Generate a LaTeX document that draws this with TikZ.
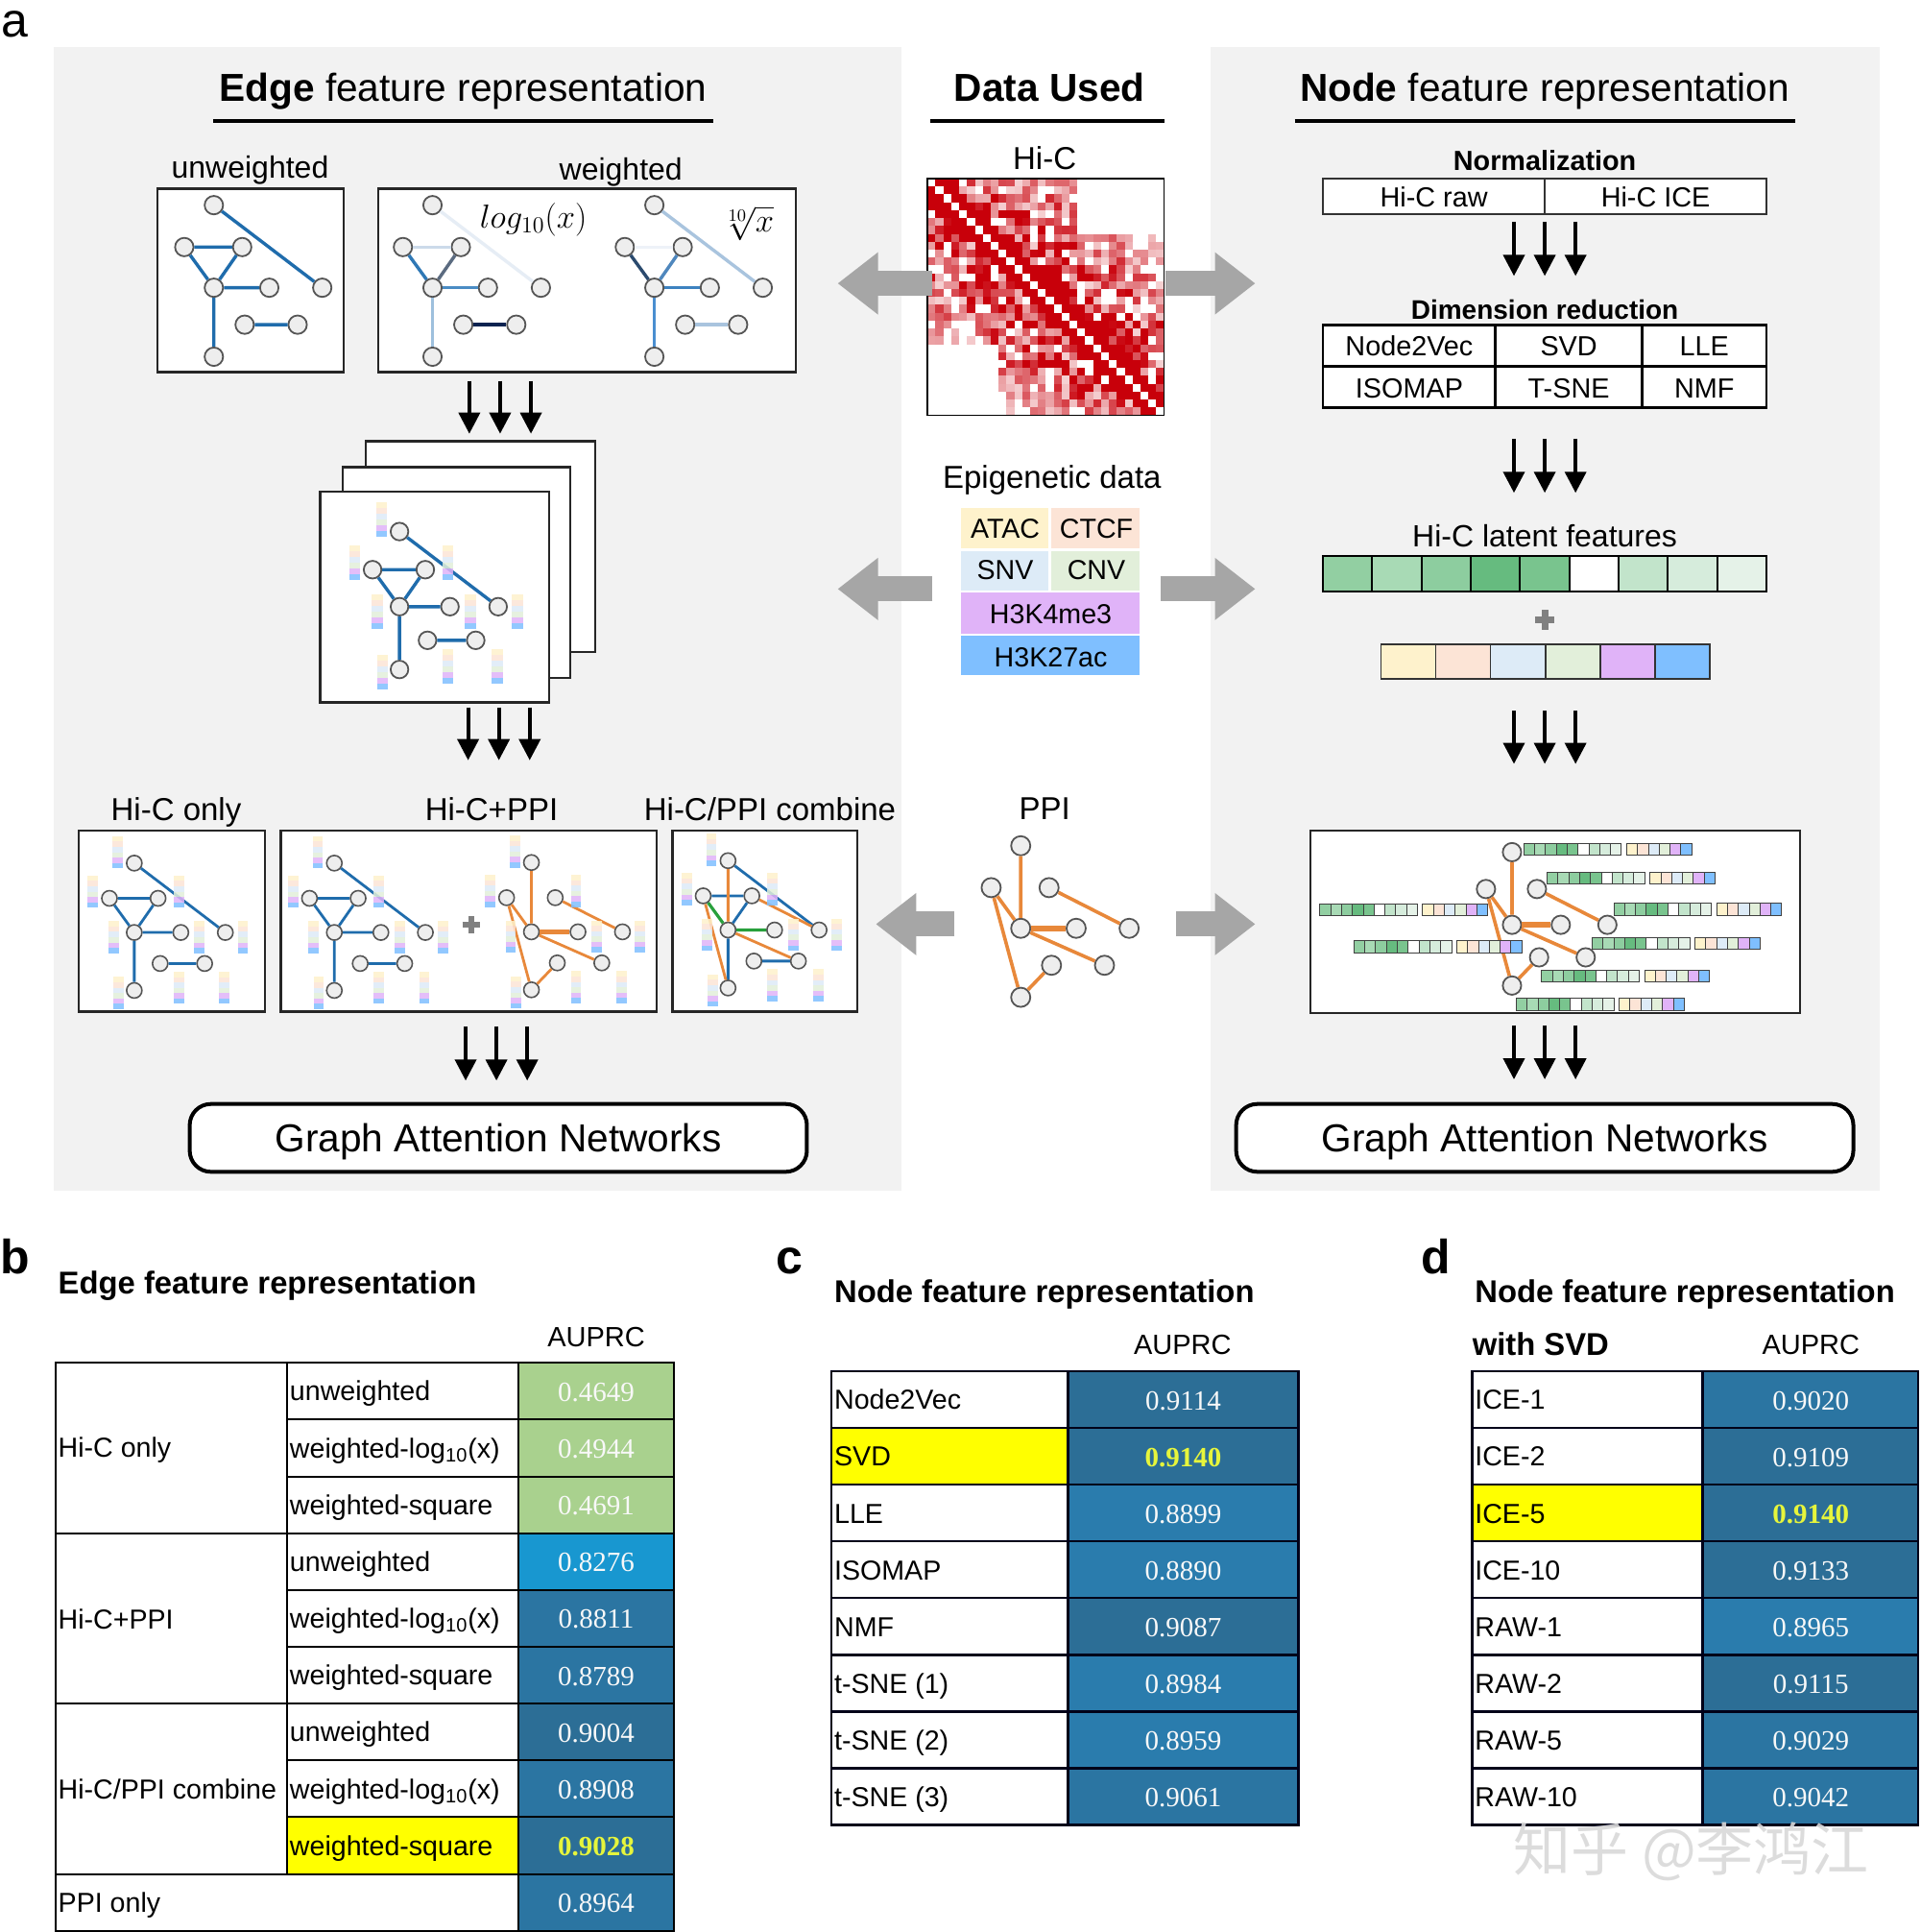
\documentclass[tikz,border=0pt]{standalone}
\usepackage{fontspec}
\setmainfont{Liberation Sans}
\newfontfamily\tnr{Liberation Serif}
\newfontfamily\cjkf{Noto Sans CJK SC}
\usetikzlibrary{arrows.meta}

\definecolor{panelgray}{HTML}{F2F2F2}
\definecolor{arrgray}{HTML}{A6A6A6}
\definecolor{hicblue}{HTML}{1F6CAC}
\definecolor{ppiorange}{HTML}{E8883A}
\definecolor{bothgreen}{HTML}{28A03C}
\definecolor{nodefill}{HTML}{EEEEEE}
\definecolor{nodedraw}{HTML}{555555}
\definecolor{hicred}{HTML}{C8000A}
\definecolor{epiA}{HTML}{FEF2CC}
\definecolor{epiB}{HTML}{FCE4D6}
\definecolor{epiC}{HTML}{DDEBF7}
\definecolor{epiD}{HTML}{E2EFDA}
\definecolor{epiE}{HTML}{E0B3F8}
\definecolor{epiF}{HTML}{7FBFFF}
\definecolor{gA}{HTML}{92CFA2}
\definecolor{gB}{HTML}{A8DAB5}
\definecolor{gC}{HTML}{8DCD9F}
\definecolor{gD}{HTML}{66BB7F}
\definecolor{gE}{HTML}{79C48E}
\definecolor{gF}{HTML}{FFFFFF}
\definecolor{gG}{HTML}{C2E4CB}
\definecolor{gH}{HTML}{D6ECDC}
\definecolor{gI}{HTML}{E5F2E8}
\definecolor{tgreen}{HTML}{A9D18E}
\definecolor{tbright}{HTML}{1897D0}
\definecolor{tdark}{HTML}{2C6E96}
\definecolor{tmid}{HTML}{2B75A2}
\definecolor{tlight}{HTML}{2A7CAD}
\definecolor{hlyellow}{HTML}{FFFF00}
\definecolor{numy}{HTML}{E6F53C}
\definecolor{numw}{HTML}{F8F8F8}
\definecolor{wlA}{HTML}{E6EDF5}
\definecolor{wlB}{HTML}{CCDAEA}
\definecolor{wlC}{HTML}{2F78B5}
\definecolor{wlD}{HTML}{5B6B80}
\definecolor{wlE}{HTML}{4A8CC4}
\definecolor{wlF}{HTML}{9EC0DD}
\definecolor{wlG}{HTML}{0B2350}
\definecolor{wrA}{HTML}{A9C4DE}
\definecolor{wrB}{HTML}{EEF2F8}
\definecolor{wrC}{HTML}{2B4A6E}
\definecolor{wrD}{HTML}{4F87BD}
\definecolor{wrE}{HTML}{3D82C0}
\definecolor{wrF}{HTML}{4A8ED0}
\definecolor{wrG}{HTML}{A9C4DE}

\newcommand\fsz[1]{\fontsize{#1}{#1}\selectfont}
\newcommand\txt[6][base]{\node[anchor=#1,inner sep=0pt,font=\fsz{#5}] (#2) at (#3,#4+0.558*#5) {#6};}
\newcommand\gnodes[5]{%
\begin{scope}[shift={(#2,#3)},scale=#4]
\foreach \nm/\px/\py in {a/0/0,b/-24/34,c/23/34,d/0/67,e/45/67,f/88/67,g/25/97,h/68/97,i/0/123}{\node[#5] (#1\nm) at (\px,\py) {};}
\end{scope}}
\newcommand\hicE[2]{\draw[#2] (#1a)--(#1f) (#1b)--(#1c) (#1b)--(#1d) (#1c)--(#1d) (#1d)--(#1e) (#1d)--(#1i) (#1g)--(#1h);}
\newcommand\ppiE[3]{\draw[#2] (#1a)--(#1d) (#1b)--(#1d) (#1b)--(#1i) (#1c)--(#1f) (#1d)--(#1h) (#1g)--(#1i);
\draw[#3] (#1d)--(#1e);}
\newcommand\gbars[3]{%
\begin{scope}[shift={(#1,#2)},scale=#3]
\foreach \bx/\by in {-21/-26,-45/12,38/12,-25/56,58/56,100/56,-20/110,38/105,82/105}{
 \foreach \c [count=\k from 0] in {epiA,epiB,epiC,epiD,epiE,epiF}{
  \fill[\c,opacity=0.85] (\bx,\by+\k*5.17) rectangle ++(10,5.17);}}
\end{scope}}
\newcommand\fbar[2]{%
\foreach \c [count=\k from 0] in {gA,gB,gC,gD,gE,gF,gG,gH,gI}{\filldraw[fill=\c,draw=black!75,line width=0.45pt] (#1+\k*8.8,#2) rectangle ++(8.8,9.8);}
\foreach \c [count=\k from 0] in {epiA,epiB,epiC,epiD,epiE,epiF}{\filldraw[fill=\c,draw=black!75,line width=0.45pt] (#1+83.5+\k*8.8,#2) rectangle ++(8.8,9.8);}}
\newcommand\tri[4]{%
\foreach \dx [count=\k] in {-25,0,25}{
 \coordinate (#1s\k) at (#2+\dx,#3);
 \coordinate (#1e\k) at (#2+\dx,#4);
 \draw[tarrow] (#1s\k) -- (#1e\k);}}

\begin{document}
\begin{tikzpicture}[x=0.6415pt,y=-0.6415pt,
 gn/.style={circle,draw=nodedraw,fill=nodefill,line width=0.9pt,inner sep=0pt,minimum size=9.6pt},
 gnm/.style={gn,minimum size=9.2pt},
 gns/.style={gn,minimum size=8pt,line width=0.8pt},
 gnl/.style={gn,minimum size=10pt},
 he/.style={hicblue,line width=1.7pt},
 hes/.style={hicblue,line width=1.4pt},
 pe/.style={ppiorange,line width=1.8pt},
 pet/.style={ppiorange,line width=3pt},
 pes/.style={ppiorange,line width=1.4pt},
 pest/.style={ppiorange,line width=2.2pt},
 ges/.style={bothgreen,line width=1.6pt},
 we/.style={line width=1.7pt},
 boxw/.style={draw=black!85,fill=white,line width=1.2pt},
 tarrow/.style={line width=1.9pt,-{Triangle[width=11pt,length=11pt]}},
 bigarr/.style={arrgray,line width=13pt,-{Triangle[width=31pt,length=21pt]}},
 gat/.style={draw,line width=2pt,rounded corners=11pt,fill=white,inner sep=0pt,font=\fsz{20.3},text height=14.5pt,text depth=0pt,minimum width=321.4pt,minimum height=35.3pt},
 tline/.style={line width=1pt,black},
 tline2/.style={line width=1.2pt,black!90!blue}]
\useasboundingbox (0,0) rectangle (1559,1568);
\fill[white] (0,0) rectangle (1559,1568);
\fill[panelgray] (44,38) rectangle (732,966);
\fill[panelgray] (983,38) rectangle (1526,966);

% panel label a
\node[anchor=base,inner sep=0pt,font=\fsz{25}] (la) at (12,30) {a};

% titles
\txt{tE}{376}{71}{20.3}{\textbf{Edge} feature representation}
\draw[line width=2pt] (173,98) -- (579,98);
\txt{tD}{852}{71}{20.3}{\textbf{Data Used}}
\draw[line width=2pt] (755,98) -- (945,98);
\txt{tN}{1254}{71}{20.3}{\textbf{Node} feature representation}
\draw[line width=2pt] (1051,98) -- (1457,98);

% ===== Edge feature section =====
\txt{lUnw}{203}{136}{16}{unweighted}
\txt{lW}{504}{137}{16}{weighted}
\filldraw[boxw] (128,153) rectangle (279,302);
\filldraw[boxw] (307,153) rectangle (646,302);
\gnodes{U}{173.6}{166.5}{1}{gn}
\hicE{U}{he}
\gnodes{M}{351.1}{166.5}{1}{gn}
\draw[we,wlA] (Ma)--(Mf);
\draw[we,wlB] (Mb)--(Mc);
\draw[we,wlC] (Mb)--(Md);
\draw[we,wlD] (Mc)--(Md);
\draw[we,wlE] (Md)--(Me);
\draw[we,wlF] (Md)--(Mi);
\draw[we,wlG] (Mg)--(Mh);
\gnodes{R}{531.2}{166.5}{1}{gn}
\draw[we,wrA] (Ra)--(Rf);
\draw[we,wrB] (Rb)--(Rc);
\draw[we,wrC] (Rb)--(Rd);
\draw[we,wrD] (Rc)--(Rd);
\draw[we,wrE] (Rd)--(Re);
\draw[we,wrF] (Rd)--(Ri);
\draw[we,wrG] (Rg)--(Rh);
\node[inner sep=0pt,font=\fsz{18}] (lLog) at (433,178) {$log_{10}(x)$};
\node[inner sep=0pt,font=\fsz{18}] (lRoot) at (606,181) {$\sqrt[10]{x}$};

\tri{ta}{406}{309}{352}

% stacked graphs
\filldraw[boxw] (297,358) rectangle (483,529);
\filldraw[boxw] (278,379) rectangle (463,550);
\filldraw[boxw] (260,399) rectangle (446,570);
\gnodes{S}{324.3}{431.4}{0.91}{gnm}
\hicE{S}{he}
\gbars{324.3}{431.4}{0.91}

\tri{tb}{405}{574}{617}

% bottom graphs
\txt{lHo}{143}{657}{16.5}{Hi-C only}
\txt{lHp}{399}{657}{16.5}{Hi-C+PPI}
\txt{lHc}{625}{657}{16.5}{Hi-C/PPI combine}
\filldraw[boxw] (64,674) rectangle (215,821);
\filldraw[boxw] (228,674) rectangle (533,821);
\filldraw[boxw] (546,674) rectangle (696,821);
\gnodes{H}{109}{700.5}{0.84}{gns}
\hicE{H}{hes}
\gbars{109}{700.5}{0.84}
\gnodes{L}{271.4}{700.5}{0.84}{gns}
\hicE{L}{hes}
\gbars{271.4}{700.5}{0.84}
\gnodes{Q}{431.4}{700}{0.84}{gns}
\ppiE{Q}{pes}{pest}
\gbars{431.4}{700}{0.84}
\draw[gray,line width=3pt] (375.4,750.7) -- (389.4,750.7) (382.4,743.7) -- (382.4,757.7);
\gnodes{C}{591}{698.5}{0.84}{gns}
\draw[hes] (Ca)--(Cf) (Cb)--(Cc) (Cc)--(Cd) (Cd)--(Ci) (Cg)--(Ch);
\draw[pes] (Ca)--(Cd) (Cb)--(Ci) (Cc)--(Cf) (Cd)--(Ch);
\draw[ges] (Cb)--(Cd) (Cd)--(Ce);
\gbars{591}{698.5}{0.84}

\tri{tc}{403}{833}{877}
\node[gat] (gatL) at (404.5,923.5) {Graph Attention Networks};

% ===== Data used =====
\txt{lHiC}{848}{128}{16.5}{Hi-C}
\pgfmathsetseed{11}
\foreach \i in {0,...,29}{\foreach \j in {0,...,29}{
 \pgfmathtruncatemacro\dd{abs(\i-\j)}
 \pgfmathtruncatemacro\cor{or(and(\i<7,\j>18),and(\j<9,\i>20))}
 \pgfmathsetmacro\base{\cor>0 ? 0.1 : 1.25-\dd/22}
 \pgfmathsetmacro\val{\dd<1 ? 0 : (\dd<3 ? 100 : 100*\base*(1.4*rnd))}
 \pgfmathtruncatemacro\v{min(100,max(0,\val))}
 \pgfmathtruncatemacro\v{\v<18 ? 0 : \v}
 \fill[hicred!\v!white] (753+\j*6.4,145+\i*6.4) rectangle ++(6.45,6.45);
}}
\draw[line width=0.8pt] (753,145) rectangle (945,337);

\txt{lEpi}{854}{387}{16.5}{Epigenetic data}
\fill[epiA] (780,412) rectangle (851,445);
\fill[epiB] (853,412) rectangle (925,445);
\fill[epiC] (780,447) rectangle (851,479);
\fill[epiD] (853,447) rectangle (925,479);
\fill[epiE] (780,481) rectangle (925,514);
\fill[epiF] (780,516) rectangle (925,548);
\txt{eA}{816}{429}{14.3}{ATAC}
\txt{eB}{890}{429}{14.3}{CTCF}
\txt{eC}{816}{462}{14.3}{SNV}
\txt{eD}{890}{462}{14.3}{CNV}
\txt{eE}{853}{498}{14.3}{H3K4me3}
\txt{eF}{853}{533}{14.3}{H3K27ac}

\txt{lPPI}{848}{656}{16.5}{PPI}
\gnodes{P}{828.6}{686.4}{1}{gnl}
\ppiE{P}{pe}{pet}

% big gray arrows
\coordinate (gA1s) at (757,230); \coordinate (gA1e) at (680,230);
\coordinate (gA2s) at (946,230); \coordinate (gA2e) at (1019,230);
\coordinate (gB1s) at (757,478); \coordinate (gB1e) at (680,478);
\coordinate (gB2s) at (942,478); \coordinate (gB2e) at (1019,478);
\coordinate (gC1s) at (775,750); \coordinate (gC1e) at (711,750);
\coordinate (gC2s) at (955,750); \coordinate (gC2e) at (1019,750);
\draw[bigarr] (gA1s) -- (gA1e);
\draw[bigarr] (gA2s) -- (gA2e);
\draw[bigarr] (gB1s) -- (gB1e);
\draw[bigarr] (gB2s) -- (gB2e);
\draw[bigarr] (gC1s) -- (gC1e);
\draw[bigarr] (gC2s) -- (gC2e);

% ===== Node feature section =====
\txt{lNorm}{1254}{130}{14.4}{\bfseries Normalization}
\filldraw[draw=black!80,fill=white,line width=0.9pt] (1074,145) rectangle (1434,174);
\draw[black!80,line width=0.9pt] (1254,145) -- (1254,174);
\txt{cRaw}{1164}{160}{14.4}{Hi-C raw}
\txt{cIce}{1344}{160}{14.4}{Hi-C ICE}
\tri{td}{1254}{180}{224}
\txt{lDim}{1254}{251}{14}{\bfseries Dimension reduction}
\filldraw[draw=black,fill=white,line width=1.3pt] (1074,264) rectangle (1434,331);
\draw[black,line width=1.3pt] (1074,297.5) -- (1434,297.5) (1214,264) -- (1214,331) (1333,264) -- (1333,331);
\txt{dA}{1144}{281}{14.4}{Node2Vec}
\txt{dB}{1273.5}{281}{14.4}{SVD}
\txt{dC}{1383.5}{281}{14.4}{LLE}
\txt{dD}{1144}{315}{14.4}{ISOMAP}
\txt{dE}{1273.5}{315}{14.4}{T-SNE}
\txt{dF}{1383.5}{315}{14.4}{NMF}
\tri{te}{1254}{356}{400}
\txt{lLat}{1254}{435}{16}{Hi-C latent features}
\foreach \c [count=\k from 0] in {gA,gB,gC,gD,gE,gF,gG,gH,gI}{\filldraw[fill=\c,draw=black,line width=1pt] (1074+\k*40,451) rectangle ++(40,29);}
\draw[gray,line width=3.4pt] (1246,503) -- (1262,503) (1254,495) -- (1254,511);
\foreach \c [count=\k from 0] in {epiA,epiB,epiC,epiD,epiE,epiF}{\filldraw[fill=\c,draw=black!80,line width=0.8pt] (1121+\k*44.5,523) rectangle ++(44.5,28);}
\tri{tf}{1254}{577}{620}

\filldraw[boxw] (1064,674) rectangle (1461,822);
\gnodes{N}{1227.4}{691.6}{0.88}{gn}
\ppiE{N}{pe}{pet}
\fbar{1237}{684.3}
\fbar{1255.9}{707.6}
\fbar{1071.4}{733.4}
\fbar{1310}{732.9}
\fbar{1099.1}{763.4}
\fbar{1292.4}{760.8}
\fbar{1251.5}{787.2}
\fbar{1230.9}{810}

\tri{tg}{1254}{832}{876}
\node[gat] (gatR) at (1254,923.5) {Graph Attention Networks};

% ===== Table b =====
\node[anchor=base,inner sep=0pt,font=\fsz{25}\bfseries] (lb) at (12,1034) {b};
\txt[base west]{bT}{47}{1041}{16.4}{\bfseries Edge feature representation}
\txt{bAU}{484}{1085}{14.5}{AUPRC}
\foreach \c [count=\r from 0] in {tgreen,tgreen,tgreen,tbright,tmid,tmid,tdark,tmid,tdark,tmid}{\fill[\c] (421,1106+46.1*\r) rectangle (547,1152.1+46.1*\r);}
\fill[hlyellow] (233,1474.8) rectangle (421,1520.9);
\draw[tline] (45,1106) rectangle (547,1567);
\draw[tline] (233,1106) -- (233,1520.9) (421,1106) -- (421,1567);
\foreach \r in {3,6,9}{\draw[tline] (45,1106+46.1*\r) -- (547,1106+46.1*\r);}
\foreach \r in {1,2,4,5,7,8}{\draw[tline] (233,1106+46.1*\r) -- (547,1106+46.1*\r);}
\foreach \lab/\num/\tc/\wt [count=\r from 0] in {unweighted/0.4649/numw/\mdseries,weighted-log\textsubscript{10}(x)/0.4944/numw/\mdseries,weighted-square/0.4691/numw/\mdseries,unweighted/0.8276/numw/\mdseries,weighted-log\textsubscript{10}(x)/0.8811/numw/\mdseries,weighted-square/0.8789/numw/\mdseries,unweighted/0.9004/numw/\mdseries,weighted-log\textsubscript{10}(x)/0.8908/numw/\mdseries,weighted-square/0.9028/numy/\bfseries}{
 \node[anchor=base west,inner sep=0pt,font=\fsz{14.3}] (bl\r) at (235,1137+46.1*\r) {\lab};
 \node[anchor=base,inner sep=0pt,font=\tnr\fsz{14.5}\wt,text=\tc] (bn\r) at (484,1137.2+46.1*\r) {\num};
}
\node[anchor=base,inner sep=0pt,font=\tnr\fsz{14.5},text=numw] (bn9) at (484,1552.1) {0.8964};
\txt[base west]{bg1}{47}{1175}{14.3}{Hi-C only}
\txt[base west]{bg2}{47}{1314}{14.3}{Hi-C+PPI}
\txt[base west]{bg3}{47}{1452}{14.3}{Hi-C/PPI combine}
\txt[base west]{bg4}{47}{1544}{14.3}{PPI only}

% ===== Table c =====
\node[anchor=base,inner sep=0pt,font=\fsz{25}\bfseries] (lc) at (641,1034) {c};
\txt[base west]{cT}{677}{1048}{16.4}{\bfseries Node feature representation}
\txt{cAU}{960}{1091}{14.5}{AUPRC}
\foreach \c [count=\r from 0] in {tdark,tdark,tlight,tlight,tdark,tlight,tlight,tmid}{\fill[\c] (867,1113+46*\r) rectangle (1054,1159+46*\r);}
\fill[hlyellow] (675,1159) rectangle (867,1205);
\draw[tline2] (675,1113) rectangle (1054,1481);
\draw[tline2] (867,1113) -- (867,1481);
\foreach \r in {1,...,7}{\draw[tline2] (675,1113+46*\r) -- (1054,1113+46*\r);}
\foreach \lab/\num/\tc/\wt [count=\r from 0] in {Node2Vec/0.9114/numw/\mdseries,SVD/0.9140/numy/\bfseries,LLE/0.8899/numw/\mdseries,ISOMAP/0.8890/numw/\mdseries,NMF/0.9087/numw/\mdseries,t-SNE (1)/0.8984/numw/\mdseries,t-SNE (2)/0.8959/numw/\mdseries,t-SNE (3)/0.9061/numw/\mdseries}{
 \node[anchor=base west,inner sep=0pt,font=\fsz{14.3}] (cl\r) at (677,1144+46*\r) {\lab};
 \node[anchor=base,inner sep=0pt,font=\tnr\fsz{14.5}\wt,text=\tc] (cn\r) at (960.5,1144.1+46*\r) {\num};
}

% ===== Table d =====
\node[anchor=base,inner sep=0pt,font=\fsz{25}\bfseries] (ld) at (1166,1034) {d};
\txt[base west]{dT}{1197}{1048}{16.4}{\bfseries Node feature representation}
\txt[base west]{dT2}{1195}{1091}{16.4}{\bfseries with SVD}
\txt{dAU}{1470}{1091}{14.5}{AUPRC}
\foreach \c [count=\r from 0] in {tmid,tdark,tdark,tdark,tlight,tdark,tmid,tmid}{\fill[\c] (1382,1113+46*\r) rectangle (1557,1159+46*\r);}
\fill[hlyellow] (1195,1205) rectangle (1382,1251);
\draw[tline2] (1195,1113) rectangle (1557,1481);
\draw[tline2] (1382,1113) -- (1382,1481);
\foreach \r in {1,...,7}{\draw[tline2] (1195,1113+46*\r) -- (1557,1113+46*\r);}
\foreach \lab/\num/\tc/\wt [count=\r from 0] in {ICE-1/0.9020/numw/\mdseries,ICE-2/0.9109/numw/\mdseries,ICE-5/0.9140/numy/\bfseries,ICE-10/0.9133/numw/\mdseries,RAW-1/0.8965/numw/\mdseries,RAW-2/0.9115/numw/\mdseries,RAW-5/0.9029/numw/\mdseries,RAW-10/0.9042/numw/\mdseries}{
 \node[anchor=base west,inner sep=0pt,font=\fsz{14.3}] (dl\r) at (1197,1144+46*\r) {\lab};
 \node[anchor=base,inner sep=0pt,font=\tnr\fsz{14.5}\wt,text=\tc] (dn\r) at (1470,1144.1+46*\r) {\num};
}

% watermark
\node[inner sep=0pt,text=gray!30,opacity=0.9,font=\cjkf\fsz{30}] (wm) at (1373,1503) {知乎 @李鸿江};
\end{tikzpicture}
\end{document}
